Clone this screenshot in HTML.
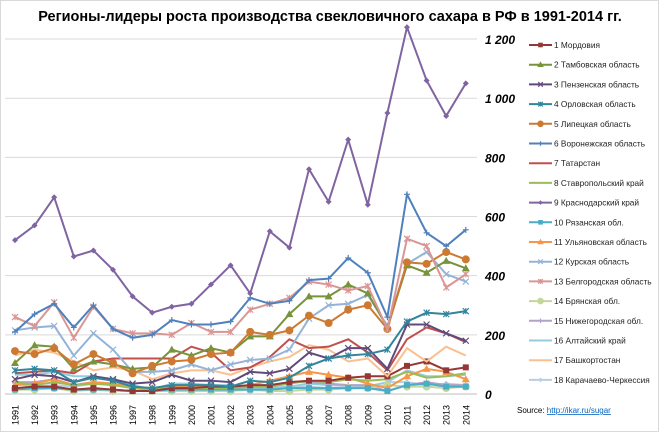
<!DOCTYPE html><html><head><meta charset="utf-8"><style>body{margin:0;background:#fff}svg{display:block;font-family:"Liberation Sans",sans-serif}</style></head><body>
<svg id="s" width="659" height="432" xmlns="http://www.w3.org/2000/svg">
<rect x="0.5" y="0.5" width="658" height="431" fill="#fff" stroke="#d9d9d9"/>
<text x="330" y="21" text-anchor="middle" font-size="14.5" font-weight="bold" fill="#000">Регионы-лидеры роста производства свекловичного сахара в РФ в 1991-2014 гг.</text>
<g id="g"></g>
<text x="517" y="413" font-size="8" fill="#000">Source:  <tspan fill="#0563C1" text-decoration="underline">http://ikar.ru/sugar</tspan></text>
</svg>
<script>
const g=document.getElementById('g');let h='';
const Y=v=>394-v*0.2958, X=i=>15+i*19.6;
for(let k=0;k<=6;k++){const y=Y(k*200);h+=`<line x1="5" x2="477" y1="${y}" y2="${y}" stroke="${k?'#d9d9d9':'#bfbfbf'}"/>`;
h+=`<text x="485" y="${y+5}" font-size="12" font-weight="bold" font-style="italic">${['0','200','400','600','800','1 000','1 200'][k]}</text>`;}
for(let i=0;i<24;i++){const x=X(i);h+=`<text transform="translate(${x+3.5},425) rotate(-90)" font-size="9">${1991+i}</text>`;}
const S=[
["1 Мордовия","#953735","sq",[20,25,25,15,20,15,10,10,20,20,25,25,30,30,40,45,45,55,60,60,95,110,80,90]],
["2 Тамбовская область","#77933C","tri",[105,165,160,85,110,100,85,90,150,130,155,140,195,195,270,330,330,370,340,225,435,410,450,425]],
["3 Пензенская область","#604A7B","x",[50,65,60,40,60,50,35,40,65,45,45,40,75,70,85,140,120,155,155,85,235,235,205,180]],
["4 Орловская область","#31859C","ast",[80,85,80,40,55,45,25,20,30,30,30,25,45,40,55,95,120,130,135,150,245,275,270,280]],
["5 Липецкая область","#CC7A32","cir",[145,135,155,100,135,105,70,95,110,115,135,140,210,200,215,265,240,285,300,220,445,440,480,455]],
["6 Воронежская область","#4F81BD","plus",[210,270,305,225,300,220,190,200,250,235,235,245,325,305,315,385,390,460,410,260,675,545,500,555]],
["7 Татарстан","#C0504D","",[70,75,80,70,110,120,120,120,120,160,140,80,90,125,185,155,160,185,140,80,185,225,205,175]],
["8 Ставропольский край","#9BBB59","",[40,30,40,30,35,30,20,15,20,20,20,20,25,25,35,45,40,50,45,50,75,55,60,70]],
["9 Краснодарский край","#8064A2","dia",[520,570,665,465,485,420,330,275,295,305,370,435,340,550,495,760,650,860,640,950,1240,1060,940,1050]],
["10 Рязанская обл.","#4BACC6","sq",[15,20,20,15,15,15,10,10,15,15,15,15,15,15,20,20,20,20,20,10,30,35,25,25]],
["11 Ульяновская область","#F79646","tri",[30,35,50,30,40,35,25,20,25,25,25,25,30,45,60,75,65,55,35,20,60,85,75,50]],
["12 Курская область","#95B3D7","x",[215,225,230,130,205,150,75,75,80,100,80,100,115,120,150,255,300,305,335,230,440,480,405,380]],
["13 Белгородская область","#D99694","ast",[260,230,310,190,295,220,205,205,200,240,210,210,285,305,325,380,370,350,365,220,525,500,360,405]],
["14 Брянская обл.","#C3D69B","cir",[15,15,20,10,15,10,10,10,10,10,10,10,15,10,10,15,15,20,20,30,25,25,20,25]],
["15 Нижегородская обл.","#B3A2C7","plus",[40,40,50,30,40,35,20,15,25,25,20,20,25,25,40,40,35,30,30,10,30,40,30,30]],
["16 Алтайский край","#93CDDD","",[65,65,75,60,60,45,30,15,35,35,30,30,20,20,25,35,30,30,25,40,80,60,60,65]],
["17 Башкортостан","#FAC090","",[130,150,140,110,80,90,80,50,70,80,80,65,90,110,125,165,150,110,120,60,155,110,160,130]],
["18 Карачаево-Черкессия","#B9CDE5","dia",[35,25,30,25,35,30,20,15,20,20,20,20,20,20,25,25,20,25,25,40,40,30,35,30]]];
function mk(t,x,y,c,r){r=r||3;switch(t){
case"sq":return`<rect x="${x-r}" y="${y-r}" width="${2*r}" height="${2*r}" fill="${c}"/>`;
case"tri":return`<polygon points="${x},${y-r-1} ${x-r-1},${y+r} ${x+r+1},${y+r}" fill="${c}"/>`;
case"cir":return`<circle cx="${x}" cy="${y}" r="${r+1}" fill="${c}"/>`;
case"dia":return`<polygon points="${x},${y-r} ${x+r},${y} ${x},${y+r} ${x-r},${y}" fill="${c}"/>`;
case"x":return`<path d="M${x-r} ${y-r}L${x+r} ${y+r}M${x-r} ${y+r}L${x+r} ${y-r}" stroke="${c}" stroke-width="1.2"/>`;
case"plus":return`<path d="M${x-r} ${y}H${x+r}M${x} ${y-r}V${y+r}" stroke="${c}" stroke-width="1.2"/>`;
case"ast":return`<path d="M${x-r} ${y-r}L${x+r} ${y+r}M${x-r} ${y+r}L${x+r} ${y-r}M${x} ${y-r}V${y+r}" stroke="${c}" stroke-width="1.2"/>`;}return"";}
const order=[17,15,14,13,10,9,7,0,16,6,2,3,11,1,4,12,5,8];
for(const j of order){const [n,c,m,d]=S[j];h+=`<polyline fill="none" stroke="${c}" stroke-width="2" points="${d.map((v,i)=>X(i)+','+Y(v)).join(' ')}"/>`;d.forEach((v,i)=>h+=mk(m,X(i),Y(v),c));}
S.forEach(([n,c,m],i)=>{const y=45+i*19.7;h+=`<line x1="529" x2="552" y1="${y}" y2="${y}" stroke="${c}" stroke-width="2"/>`+mk(m,540.5,y,c,2.3)+`<text x="554" y="${y+3}" font-size="8.3" fill="#222">${n}</text>`;});
g.innerHTML=h;
</script></body></html>
